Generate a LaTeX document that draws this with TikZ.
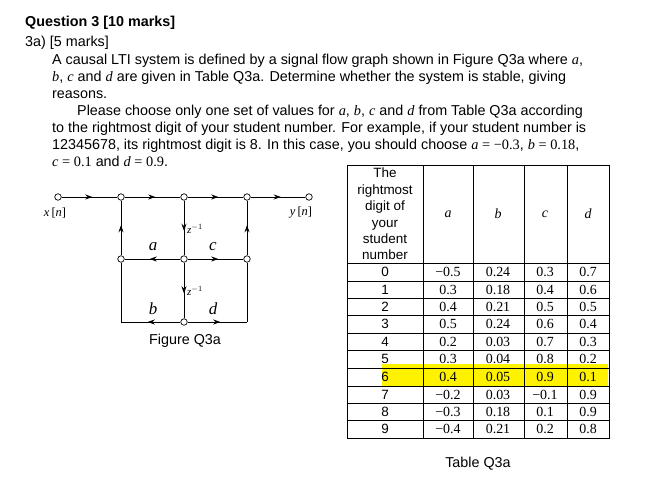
\documentclass[tikz,border=0pt]{standalone}
\usepackage{fontspec}
\setmainfont{Liberation Sans}
\newfontfamily\serifnum{Liberation Serif}
\newcommand{\mv}[1]{{\serifnum\itshape #1}}
\newcommand{\mn}[1]{{\serifnum #1}}
\usetikzlibrary{decorations.markings,arrows.meta}
\begin{document}
\begin{tikzpicture}[x=1bp,y=-1bp,
  txt/.style={anchor=base west,inner sep=0,font=\fontsize{14.4}{16}\selectfont},
  sig/.style={circle,draw,fill=white,inner sep=0,minimum size=6.5bp,line width=0.7bp},
  edge/.style={line width=0.8bp},
  marr/.style={edge,postaction={decorate},decoration={markings,mark=at position 0.55 with {\arrow{Stealth[length=7bp,width=5bp]}}}},
  gl/.style={font=\fontsize{17}{17}\selectfont\itshape\serifnum,inner sep=0},
  zl/.style={font=\fontsize{11}{11}\selectfont\serifnum,inner sep=0,anchor=west},
  cell/.style={font=\fontsize{13.5}{14}\selectfont,inner sep=0},
  vcell/.style={font=\fontsize{14}{14}\selectfont\serifnum,inner sep=0}]
\useasboundingbox[fill=white] (0,0) rectangle (652,478);
% text
\node[txt,font=\fontsize{14.4}{16}\selectfont\bfseries] (t1) at (25,27) {Question 3 [10 marks]};
\node[txt] (t2) at (25,47) {3a) [5 marks]};
\node[txt] (t3) at (52,65) {A causal LTI system is defined by a signal flow graph shown in Figure Q3a where \mv{a},};
\node[txt] (t4) at (52,82) {\mv{b}, \mv{c} and \mv{d} are given in Table Q3a. Determine whether the system is stable, giving};
\node[txt] (t5) at (52,99) {reasons.};
\node[txt] (t6) at (77,116) {Please choose only one set of values for \mv{a}, \mv{b}, \mv{c} and \mv{d} from Table Q3a according};
\node[txt] (t7) at (52,133) {to the rightmost digit of your student number. For example, if your student number is};
\node[txt] (t8) at (52,150) {12345678, its rightmost digit is 8. In this case, you should choose \mv{a}\mn{ = −0.3}, \mv{b}\mn{ = 0.18},};
\node[txt] (t9) at (52,167) {\mv{c}\mn{ = 0.1} and \mv{d}\mn{ = 0.9}.};
% flow graph
\node[sig] (x) at (58,197) {};
\node[sig] (n1) at (121,197) {};
\node[sig] (n2) at (184,197) {};
\node[sig] (n3) at (247,197) {};
\node[sig] (y) at (309,197) {};
\node[sig] (m1) at (121,259) {};
\node[sig] (m2) at (184,259) {};
\node[sig] (m3) at (247,259) {};
\node[sig] (b2) at (184,322) {};
\coordinate (b1) at (121,322);
\coordinate (b3) at (247,322);
\draw[marr] (x) -- (n1);
\draw[marr] (n1) -- (n2);
\draw[marr] (n2) -- (n3);
\draw[marr] (n3) -- (y);
\draw[marr] (m1) -- (n1);
\draw[marr] (m3) -- (n3);
\draw[marr] (n2) -- (m2);
\draw[marr] (m2) -- (b2);
\draw[marr] (m2) -- (m1);
\draw[marr] (m2) -- (m3);
\draw[marr] (b2) -- (b1);
\draw[marr] (b2) -- (b3);
\draw[edge] (b1) -- (m1);
\draw[edge] (b3) -- (m3);
\node[gl,font=\fontsize{12.5}{12}\selectfont\serifnum] (xl) at (55,213) {\textit{x}\,[\textit{n}]};
\node[gl,font=\fontsize{12.5}{12}\selectfont\serifnum] (yl) at (301,213) {\textit{y}\,[\textit{n}]};
\node[zl] (z1) at (187,229) {\textit{z}$^{-1}$};
\node[zl] (z2) at (187,291) {\textit{z}$^{-1}$};
\node[gl] (la) at (153,247) {a};
\node[gl] (lc) at (213,247) {c};
\node[gl] (lb) at (153,309) {b};
\node[gl] (ld) at (213,309) {d};
\node[font=\fontsize{14.4}{16}\selectfont,inner sep=0] (fq) at (185,341) {Figure Q3a};
% table
\fill[yellow] (382,364) rectangle (608,386);
\draw[line width=0.8bp] (347,165) rectangle (609,438);
\foreach \xx in {423,473,524,567} \draw[line width=0.8bp] (\xx,165) -- (\xx,438);
\foreach \yy in {263,281,298,315,333,350,368,386,403,420} \draw[line width=0.8bp] (347,\yy) -- (609,\yy);
\node[cell,align=center,font=\fontsize{13.5}{16.5}\selectfont] (hd) at (385,214) {The\\rightmost\\digit of\\your\\student\\number};
\node[vcell,font=\fontsize{14}{14}\selectfont\itshape\serifnum] (ha) at (448,214) {a};
\node[vcell,font=\fontsize{14}{14}\selectfont\itshape\serifnum] (hb) at (498,214) {b};
\node[vcell,font=\fontsize{14}{14}\selectfont\itshape\serifnum] (hc) at (545,214) {c};
\node[vcell,font=\fontsize{14}{14}\selectfont\itshape\serifnum] (hdd) at (588,214) {d};
\foreach \i/\va/\vb/\vc/\vd/\yc in {
 0/−0.5/0.24/0.3/0.7/272,
 1/0.3/0.18/0.4/0.6/289.5,
 2/0.4/0.21/0.5/0.5/306.5,
 3/0.5/0.24/0.6/0.4/324,
 4/0.2/0.03/0.7/0.3/341.5,
 5/0.3/0.04/0.8/0.2/359,
 6/0.4/0.05/0.9/0.1/377,
 7/−0.2/0.03/−0.1/0.9/394.5,
 8/−0.3/0.18/0.1/0.9/411.5,
 9/−0.4/0.21/0.2/0.8/429}{
 \node[cell] (r\i) at (385,\yc) {\i};
 \node[vcell] (ra\i) at (448,\yc) {\va};
 \node[vcell] (rb\i) at (498,\yc) {\vb};
 \node[vcell] (rc\i) at (545,\yc) {\vc};
 \node[vcell] (rd\i) at (588,\yc) {\vd};
}
\node[font=\fontsize{14.4}{16}\selectfont,inner sep=0] (tq) at (478,464) {Table Q3a};
\end{tikzpicture}
\end{document}
